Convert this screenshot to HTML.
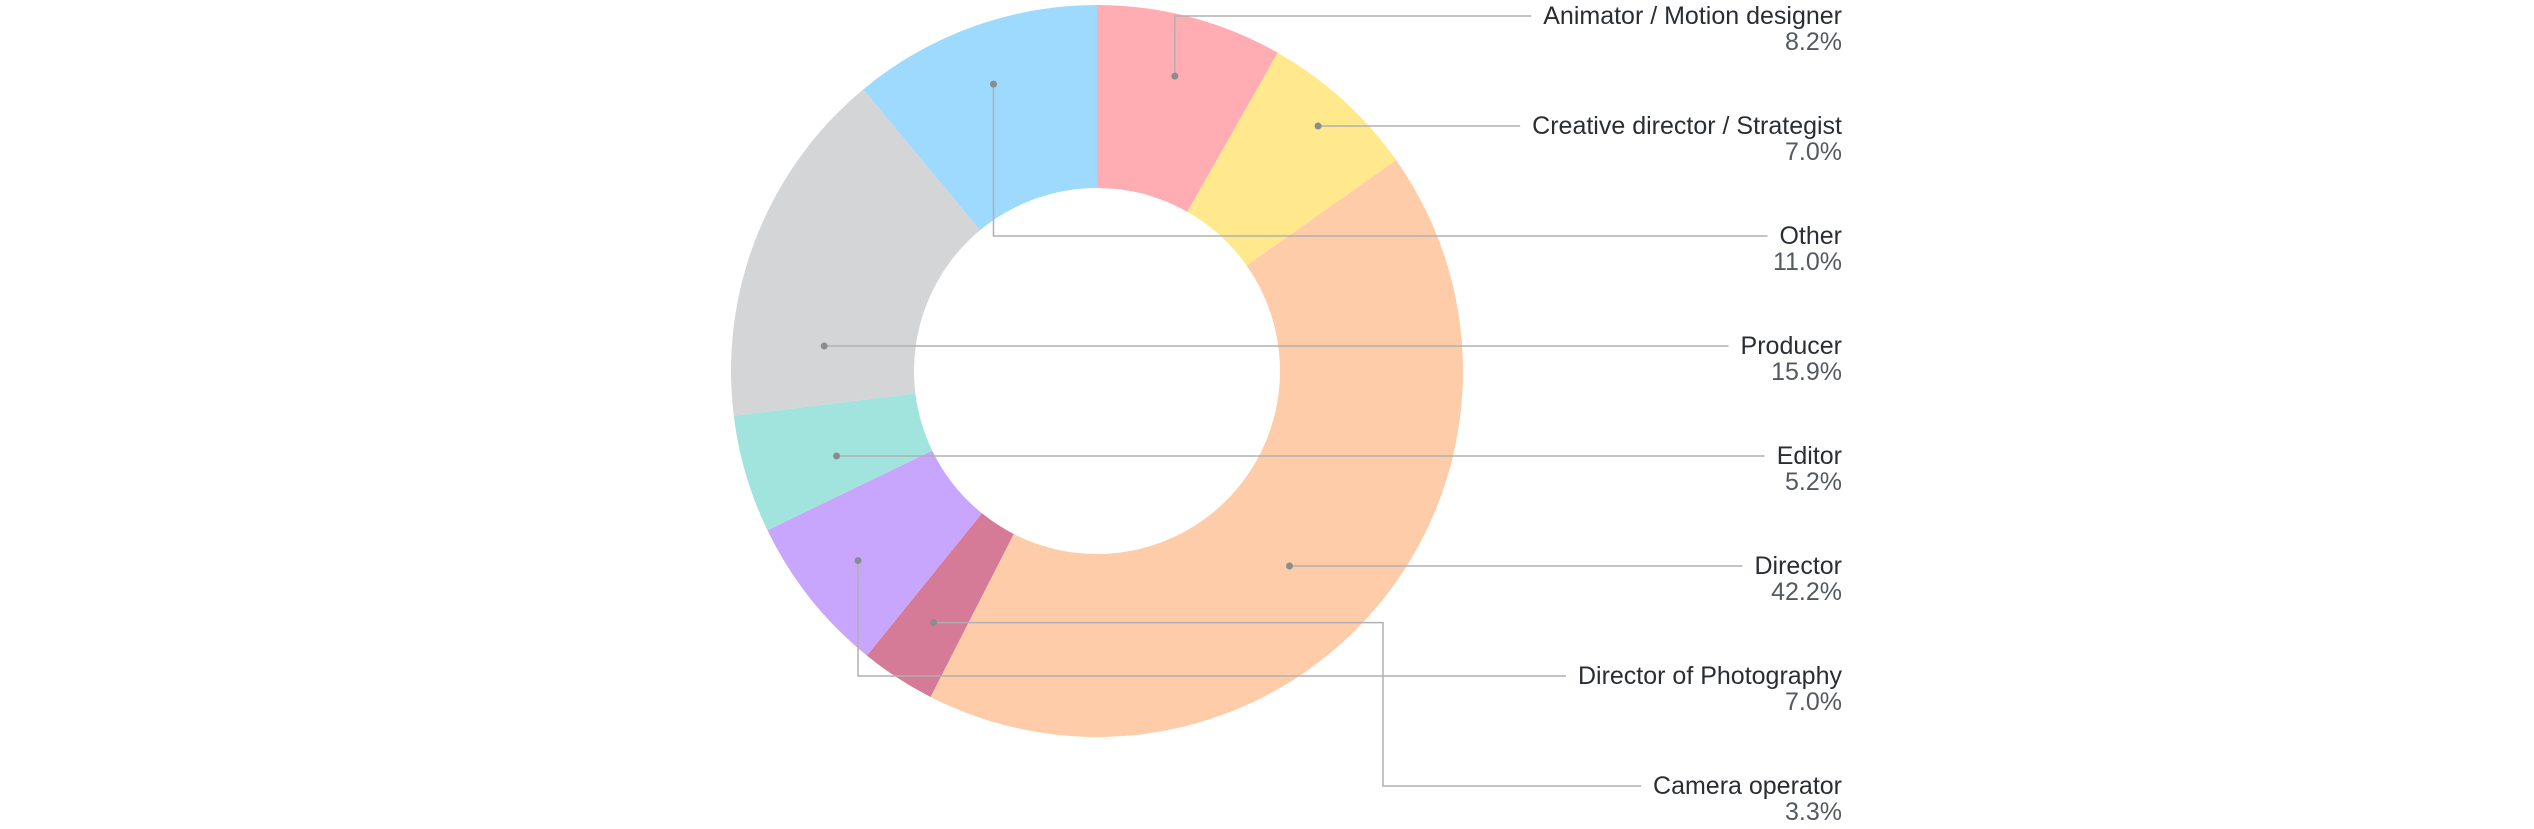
<!DOCTYPE html>
<html><head><meta charset="utf-8"><style>
html,body{margin:0;padding:0;background:#fff;}
svg text{font-family:"Liberation Sans",sans-serif;}
</style></head><body>
<svg id="chart" width="2534" height="824" viewBox="0 0 2534 824" xmlns="http://www.w3.org/2000/svg">
<g id="slices"></g>
<g id="leaders"></g>
<g id="labels"></g>
</svg>
<script>
const categories = ["Animator / Motion designer","Creative director / Strategist","Director","Camera operator","Director of Photography","Editor","Producer","Other"];
const values = [8.2, 7.0, 42.2, 3.3, 7.0, 5.2, 15.9, 11.0];
const colors = ["#ffadb2","#ffe98c","#fecca8","#d67b97","#c8a6fd","#a0e4dd","#d4d5d6","#9ddafe"];
const labelOrder = ["Animator / Motion designer","Creative director / Strategist","Other","Producer","Editor","Director","Director of Photography","Camera operator"];

const NS="http://www.w3.org/2000/svg";
const cx=1097, cy=371, R=366, r=183, midR=274, fbR=305;
const total=values.reduce((a,b)=>a+b,0);
const sg=document.getElementById('slices'), lg=document.getElementById('leaders'), tg=document.getElementById('labels');
function pt(a,rad){return [cx+rad*Math.sin(a), cy-rad*Math.cos(a)];}
let acc=0; const ranges={};
values.forEach((v,i)=>{
  const a0=acc/total*2*Math.PI, a1=(acc+v)/total*2*Math.PI; acc+=v;
  const large=(a1-a0)>Math.PI?1:0;
  const p0=pt(a0,R),p1=pt(a1,R),q1=pt(a1,r),q0=pt(a0,r);
  const p=document.createElementNS(NS,'path');
  p.setAttribute('d',`M${p0}A${R},${R} 0 ${large} 1 ${p1}L${q1}A${r},${r} 0 ${large} 0 ${q0}Z`);
  p.setAttribute('fill',colors[i]);
  
  
  sg.appendChild(p);
  ranges[categories[i]]=[a0,a1];
});
function angOf(dx,dy){let a=Math.atan2(dx,-dy); if(a<0)a+=2*Math.PI; return a;}
function findDot(name,ly){
  const [a0,a1]=ranges[name], mid=(a0+a1)/2, dy=ly-cy;
  function cands(rho){
    if(Math.abs(dy)>=rho) return [];
    const x=Math.sqrt(rho*rho-dy*dy);
    return [x,-x].map(dx=>({a:angOf(dx,dy),p:[cx+dx,ly]})).filter(c=>c.a>a0&&c.a<a1);
  }
  let c=cands(midR);
  if(c.length){c.sort((u,v)=>Math.abs(u.a-mid)-Math.abs(v.a-mid));return {p:c[0].p,h:true};}
  let best=null;
  for(let rho=220;rho<=350;rho+=2){
    cands(rho).forEach(k=>{const d=Math.abs(k.a-mid); if(!best||d<best.d)best={d,p:k.p};});
  }
  if(best) return {p:best.p,h:true};
  return {p:pt(mid,fbR),h:false};
}
labelOrder.forEach((name,k)=>{
  const i=categories.indexOf(name);
  const ly=16+k*110;
  const t=document.createElementNS(NS,'text');
  t.setAttribute('x',1842);t.setAttribute('y',ly+8);t.setAttribute('text-anchor','end');
  t.setAttribute('font-size','25');t.setAttribute('fill','#2a2e33');
  t.textContent=name;
  
  
  tg.appendChild(t);
  const t2=document.createElementNS(NS,'text');
  t2.setAttribute('x',1842);t2.setAttribute('y',ly+34);t2.setAttribute('text-anchor','end');
  t2.setAttribute('font-size','25');t2.setAttribute('fill','#555a60');
  t2.textContent=values[i].toFixed(1)+'%';
  
  
  tg.appendChild(t2);
  const w=t.getComputedTextLength();
  const endX=1842-w-12;
  let d, pts;
  if(name==="Camera operator"){
    const [a0,a1]=ranges[name]; d=pt((a0+a1)/2,300);
    const ex=1383; pts=[[d[0],d[1]],[ex,d[1]],[ex,ly],[endX,ly]];
  } else {
    const f=findDot(name,ly); d=f.p;
    pts=[[d[0],d[1]],[d[0],ly],[endX,ly]];
  }
  const pl=document.createElementNS(NS,'polyline');
  pl.setAttribute('points',pts.map(p=>p.join(',')).join(' '));
  pl.setAttribute('fill','none');pl.setAttribute('stroke','#b0b0b0');pl.setAttribute('stroke-width','1.5');
  
  
  lg.appendChild(pl);
  const c=document.createElementNS(NS,'circle');
  c.setAttribute('cx',d[0]);c.setAttribute('cy',d[1]);c.setAttribute('r',3.5);c.setAttribute('fill','#8a8d90');
  
  
  lg.appendChild(c);
});
</script>
</body></html>
